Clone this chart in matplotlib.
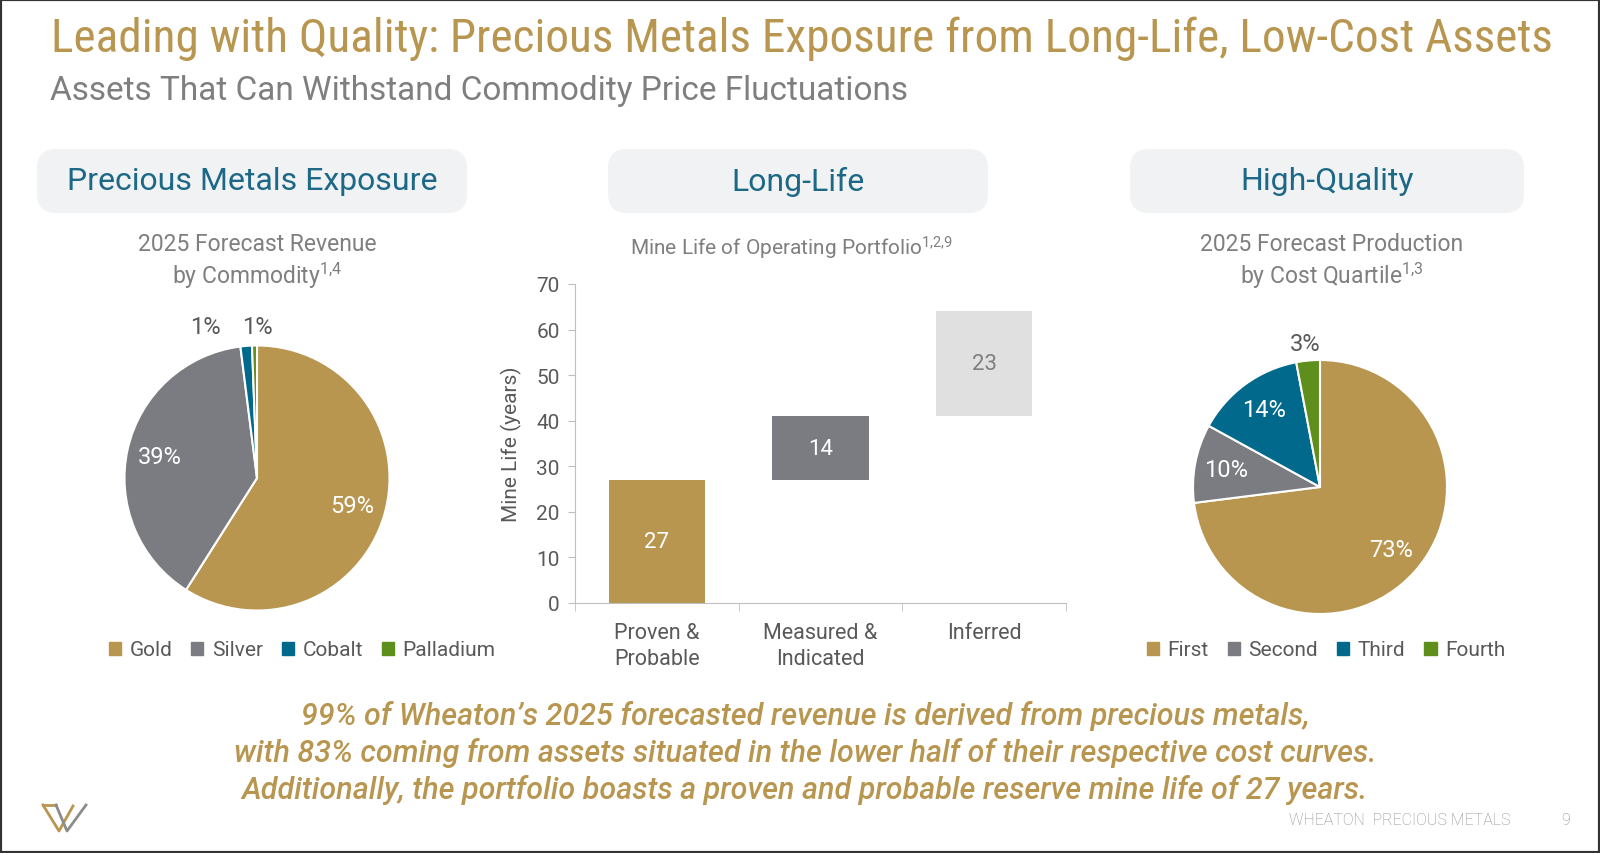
import numpy as np
import matplotlib
matplotlib.use("Agg")
import matplotlib.pyplot as plt
from matplotlib.patches import FancyBboxPatch, Rectangle, Patch
from matplotlib.lines import Line2D

plt.rcParams['font.family'] = ['Roboto', 'DejaVu Sans']
plt.rcParams['mathtext.default'] = 'regular'

# data
commodities = ["Gold", "Silver", "Cobalt", "Palladium"]
revenue_share = [59, 39, 1.4, 0.6]

life_cats = ["Proven &\nProbable", "Measured &\nIndicated", "Inferred"]
life_years = [27, 14, 23]

quartiles = ["First", "Second", "Third", "Fourth"]
production_share = [73, 10, 14, 3]

GOLD = "#B8964F"
SILVER = "#7B7C81"
COBALT = "#00698C"
GREEN = "#5E8E1C"
LIGHT = "#E0E0E0"
TEAL = "#1C6886"
TXT = "#595959"
pie_colors = [GOLD, SILVER, COBALT, GREEN]

W, H = 1600, 854
fig = plt.figure(figsize=(16, 8.54), dpi=100)
fig.patch.set_facecolor("white")

def fx(x):
    return x / W

def fy(y):
    return 1 - y / H

# titles
fig.text(fx(51), fy(39), "Leading with Quality: Precious Metals Exposure from Long-Life, Low-Cost Assets",
         family=['Roboto Condensed', 'Liberation Sans Narrow', 'Roboto'], fontsize=34, color=GOLD,
         va="center", ha="left")
fig.text(fx(50), fy(91), "Assets That Can Withstand Commodity Price Fluctuations",
         fontsize=24, color="#7F7F7F", va="center", ha="left")

# header boxes
headers = ["Precious Metals Exposure", "Long-Life", "High-Quality"]
boxes = [(37, 467), (608, 988), (1130, 1524)]
for txt, (x0, x1) in zip(headers, boxes):
    p = FancyBboxPatch((fx(x0), fy(214)), fx(x1 - x0), (214 - 150) / H,
                       boxstyle="round,pad=0,rounding_size=0.012",
                       transform=fig.transFigure, facecolor="#F1F2F3", edgecolor="none",
                       mutation_aspect=W / H)
    fig.patches.append(p)
    fig.text(fx((x0 + x1) / 2), fy(182), txt, fontsize=23, color=TEAL, ha="center", va="center")

# chart subtitles
fig.text(fx(257), fy(262), "2025 Forecast Revenue\nby Commodity$^{1{,}4}$", fontsize=16.5,
         color="#7F7F7F", ha="center", va="center", linespacing=1.2)
fig.text(fx(792), fy(248), "Mine Life of Operating Portfolio$^{1{,}2{,}9}$", fontsize=15,
         color="#7F7F7F", ha="center", va="center")
fig.text(fx(1332), fy(262), "2025 Forecast Production\nby Cost Quartile$^{1{,}3}$", fontsize=16.5,
         color="#7F7F7F", ha="center", va="center", linespacing=1.2)

def pie_axes(cx, cy, r):
    return fig.add_axes([fx(cx - r), fy(cy + r), 2 * r / W, 2 * r / H])

# pie 1
ax1 = pie_axes(257, 479, 132.5)
w1, t1, a1 = ax1.pie(revenue_share, colors=pie_colors, startangle=90, counterclock=False,
                     autopct="%.0f%%", pctdistance=0.75,
                     wedgeprops=dict(edgecolor="white", linewidth=1.5),
                     textprops=dict(fontsize=17, color="white"))
a1[2].set_position((-0.39, 1.14)); a1[2].set_color(TXT)
a1[3].set_position((0.0, 1.14)); a1[3].set_color(TXT)
ax1.plot([-0.24, -0.11, -0.075], [1.10, 1.10, 1.0], color="#BFBFBF", lw=1)
ax1.set_xlim(-1, 1); ax1.set_ylim(-1, 1)

fig.legend([Patch(color=c) for c in pie_colors], commodities, loc="center",
           bbox_to_anchor=(fx(302), fy(651)), ncol=4, frameon=False, fontsize=15,
           handlelength=0.6, handleheight=0.6, handletextpad=0.4, columnspacing=0.9,
           labelcolor=TXT)

# pie 2
ax3 = pie_axes(1320, 488, 127)
w3, t3, a3 = ax3.pie(production_share, colors=pie_colors, startangle=90, counterclock=False,
                     autopct="%.0f%%", pctdistance=0.75,
                     wedgeprops=dict(edgecolor="white", linewidth=1.5),
                     textprops=dict(fontsize=17, color="white"))
a3[3].set_position((-0.12, 1.13)); a3[3].set_color(TXT)
ax3.set_xlim(-1, 1); ax3.set_ylim(-1, 1)

fig.legend([Patch(color=c) for c in pie_colors], quartiles, loc="center",
           bbox_to_anchor=(fx(1326), fy(651)), ncol=4, frameon=False, fontsize=15,
           handlelength=0.6, handleheight=0.6, handletextpad=0.4, columnspacing=0.9,
           labelcolor=TXT)

# floating bars
ax2 = fig.add_axes([fx(575), fy(604), (1066 - 575) / W, (604 - 285) / H])
bottoms = np.concatenate([[0], np.cumsum(life_years)[:-1]])
x = np.arange(len(life_cats))
bar_colors = [GOLD, SILVER, LIGHT]
ax2.bar(x, life_years, bottom=bottoms, width=0.59, color=bar_colors)
for xi, b, v, c in zip(x, bottoms, life_years, ["white", "white", "#7F7F7F"]):
    ax2.text(xi, b + v / 2, str(v), ha="center", va="center", fontsize=16, color=c)
ax2.set_xlim(-0.5, 2.5)
ax2.set_ylim(0, 70)
ax2.set_yticks(range(0, 71, 10))
ax2.set_xticks(x)
ax2.set_xticklabels(life_cats, fontsize=15.5, color=TXT, linespacing=1.3)
ax2.set_xticks([-0.5, 0.5, 1.5, 2.5], minor=True)
ax2.tick_params(axis="x", which="major", length=0, pad=14)
ax2.tick_params(axis="x", which="minor", length=6, color="#BFBFBF")
ax2.tick_params(axis="y", length=5, color="#BFBFBF", labelsize=15, labelcolor=TXT, pad=6)
for s in ["top", "right"]:
    ax2.spines[s].set_visible(False)
for s in ["left", "bottom"]:
    ax2.spines[s].set_color("#BFBFBF")
ax2.set_ylabel("Mine Life (years)", fontsize=15, color=TXT, labelpad=10)

# bottom statement
lines = ["99% of Wheaton\u2019s 2025 forecasted revenue is derived from precious metals,",
         "with 83% coming from assets situated in the lower half of their respective cost curves.",
         "Additionally, the portfolio boasts a proven and probable reserve mine life of 27 years."]
for i, ln in enumerate(lines):
    fig.text(fx(805), fy(716 + 37 * i), ln, fontsize=22, color=GOLD, style="italic",
             fontweight="medium", ha="center", va="center")

# footer
fig.text(fx(1289), fy(821), "WHEATON  PRECIOUS METALS", fontsize=11.5, color="#8C8C8C",
         ha="left", va="center", fontweight="light")
fig.text(fx(1566), fy(821), "9", fontsize=11.5, color="#8C8C8C", ha="center", va="center",
         fontweight="light")

# logo
fig.lines.append(Line2D([fx(43), fx(59), fx(73)], [fy(806), fy(832), fy(807)],
                        transform=fig.transFigure, color=GOLD, lw=2))
fig.lines.append(Line2D([fx(43), fx(56)], [fy(806), fy(806)],
                        transform=fig.transFigure, color=GOLD, lw=2))
fig.lines.append(Line2D([fx(56), fx(67), fx(86)], [fy(806), fy(832), fy(806)],
                        transform=fig.transFigure, color="#8C8C8C", lw=2))

# frame
fig.patches.append(Rectangle((0, 0), 1, 1, transform=fig.transFigure, fill=False,
                             edgecolor="#333333", lw=3))

fig.savefig("out.png", dpi=100)
